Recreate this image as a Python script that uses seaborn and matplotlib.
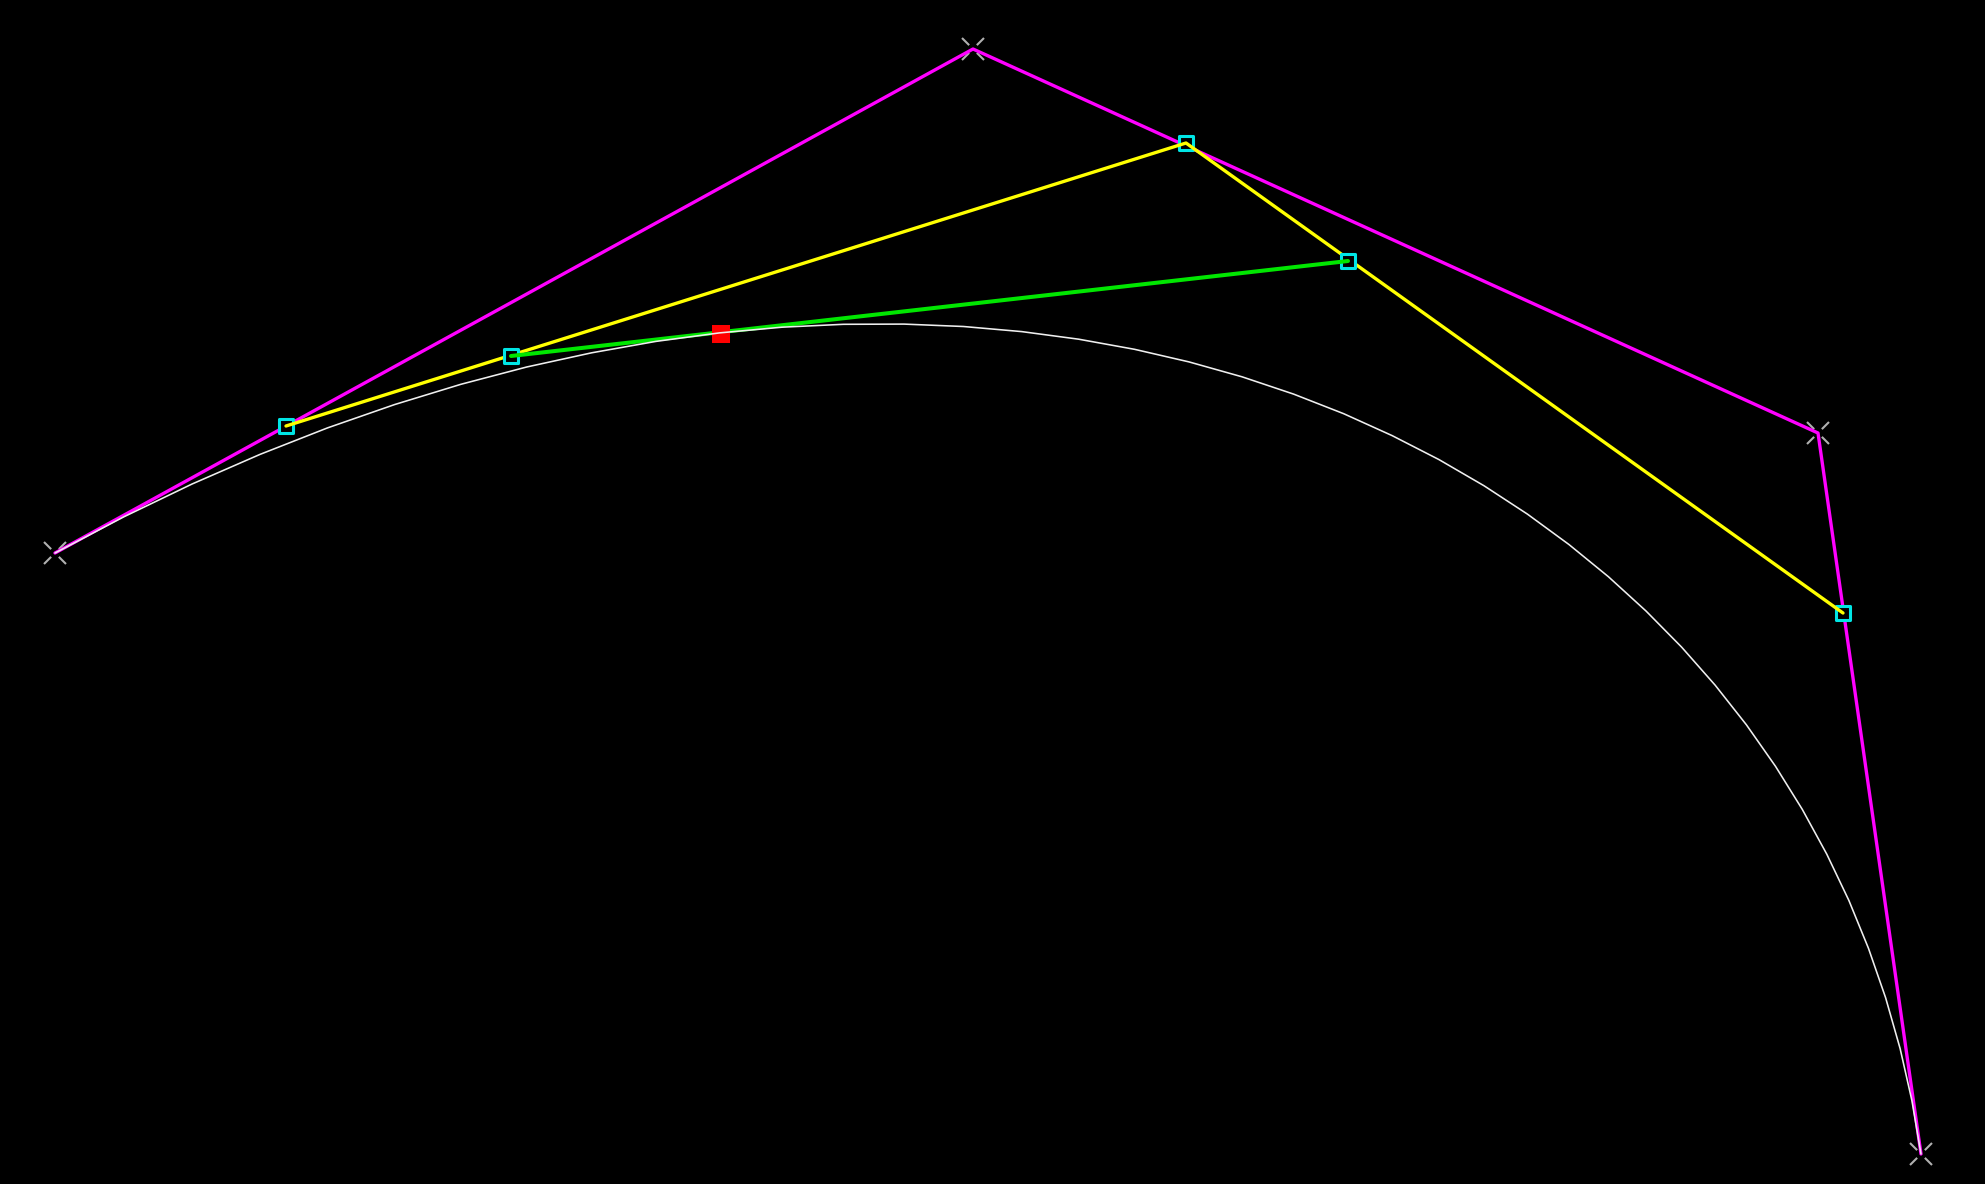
import matplotlib
matplotlib.use("Agg")
import matplotlib.pyplot as plt
from matplotlib.path import Path
import seaborn as sns

#---------- values ----------
# control polygon
ctrl_x = [55, 973, 1818, 1921]
ctrl_y = [553, 49, 433, 1154]
# first level (yellow)
lvl1_x = [286, 1186, 1843]
lvl1_y = [426, 143, 613]
# second level (green)
lvl2_x = [511, 1348]
lvl2_y = [356, 261]
# point on the curve (red)
pt_x = [721]
pt_y = [334]
# the curve itself (white)
curve_x = [55, 123.7, 192.1, 260.0, 327.5, 394.5, 460.9, 526.7, 591.7, 655.9, 719.4,
           781.9, 843.4, 904.0, 963.4, 1021.7, 1078.7, 1134.5, 1189.0, 1242.0, 1293.6,
           1343.7, 1392.1, 1439.0, 1484.1, 1527.4, 1568.8, 1608.4, 1646.0, 1681.6, 1715.1,
           1746.4, 1775.5, 1802.3, 1826.8, 1848.9, 1868.5, 1885.6, 1900.1, 1911.9, 1921]
curve_y = [553, 516.9, 484.0, 454.4, 427.9, 404.6, 384.3, 367.0, 352.8, 341.4, 332.9,
           327.2, 324.3, 324.1, 326.5, 331.6, 339.2, 349.3, 361.9, 376.8, 394.1,
           413.7, 435.6, 459.6, 485.8, 514.1, 544.4, 576.7, 611.0, 647.1, 685.1,
           724.8, 766.3, 809.4, 854.2, 900.5, 948.4, 997.7, 1048.5, 1100.6, 1154]

#---------- figure ----------
W, H = 1985, 1184
fig = plt.figure(figsize=(W / 100, H / 100), dpi=100, facecolor="black")
ax = fig.add_axes([0, 0, 1, 1])
ax.set_facecolor("black")


def line(x, y, color, lw, z):
    sns.lineplot(x=x, y=y, ax=ax, color=color, linewidth=lw, sort=False, estimator=None,
                 solid_capstyle="round", solid_joinstyle="round", zorder=z, legend=False)


def squares(x, y, z):
    sns.scatterplot(x=x, y=y, ax=ax, marker="s", s=100, facecolor="black", edgecolor="#00e6e6",
                    linewidth=2.2, zorder=z, legend=False)


# four arms with a gap in the middle
cross = Path([(-1, -1), (-0.35, -0.35), (0.35, 0.35), (1, 1), (-1, 1), (-0.35, 0.35), (0.35, -0.35), (1, -1)],
             [Path.MOVETO, Path.LINETO] * 4)
sns.scatterplot(x=ctrl_x, y=ctrl_y, ax=ax, marker=cross, s=251, facecolor="none", edgecolor="#b0b0b0",
                linewidth=1.5, zorder=1, legend=False)

line(ctrl_x, ctrl_y, "#ff00ff", 2.4, 2)
squares(lvl1_x, lvl1_y, 3)
line(lvl1_x, lvl1_y, "#ffff00", 2.4, 4)
squares(lvl2_x, lvl2_y, 5)
line(lvl2_x, lvl2_y, "#00e600", 2.9, 6)
sns.scatterplot(x=pt_x, y=pt_y, ax=ax, marker="s", s=150, color="#ff0000", linewidth=0, zorder=7, legend=False)
line(curve_x, curve_y, "#efefef", 1.15, 8)

ax.set_xlim(0, W)
ax.set_ylim(H, 0)
ax.axis("off")

fig.savefig("out.png", dpi=100, facecolor="black")
